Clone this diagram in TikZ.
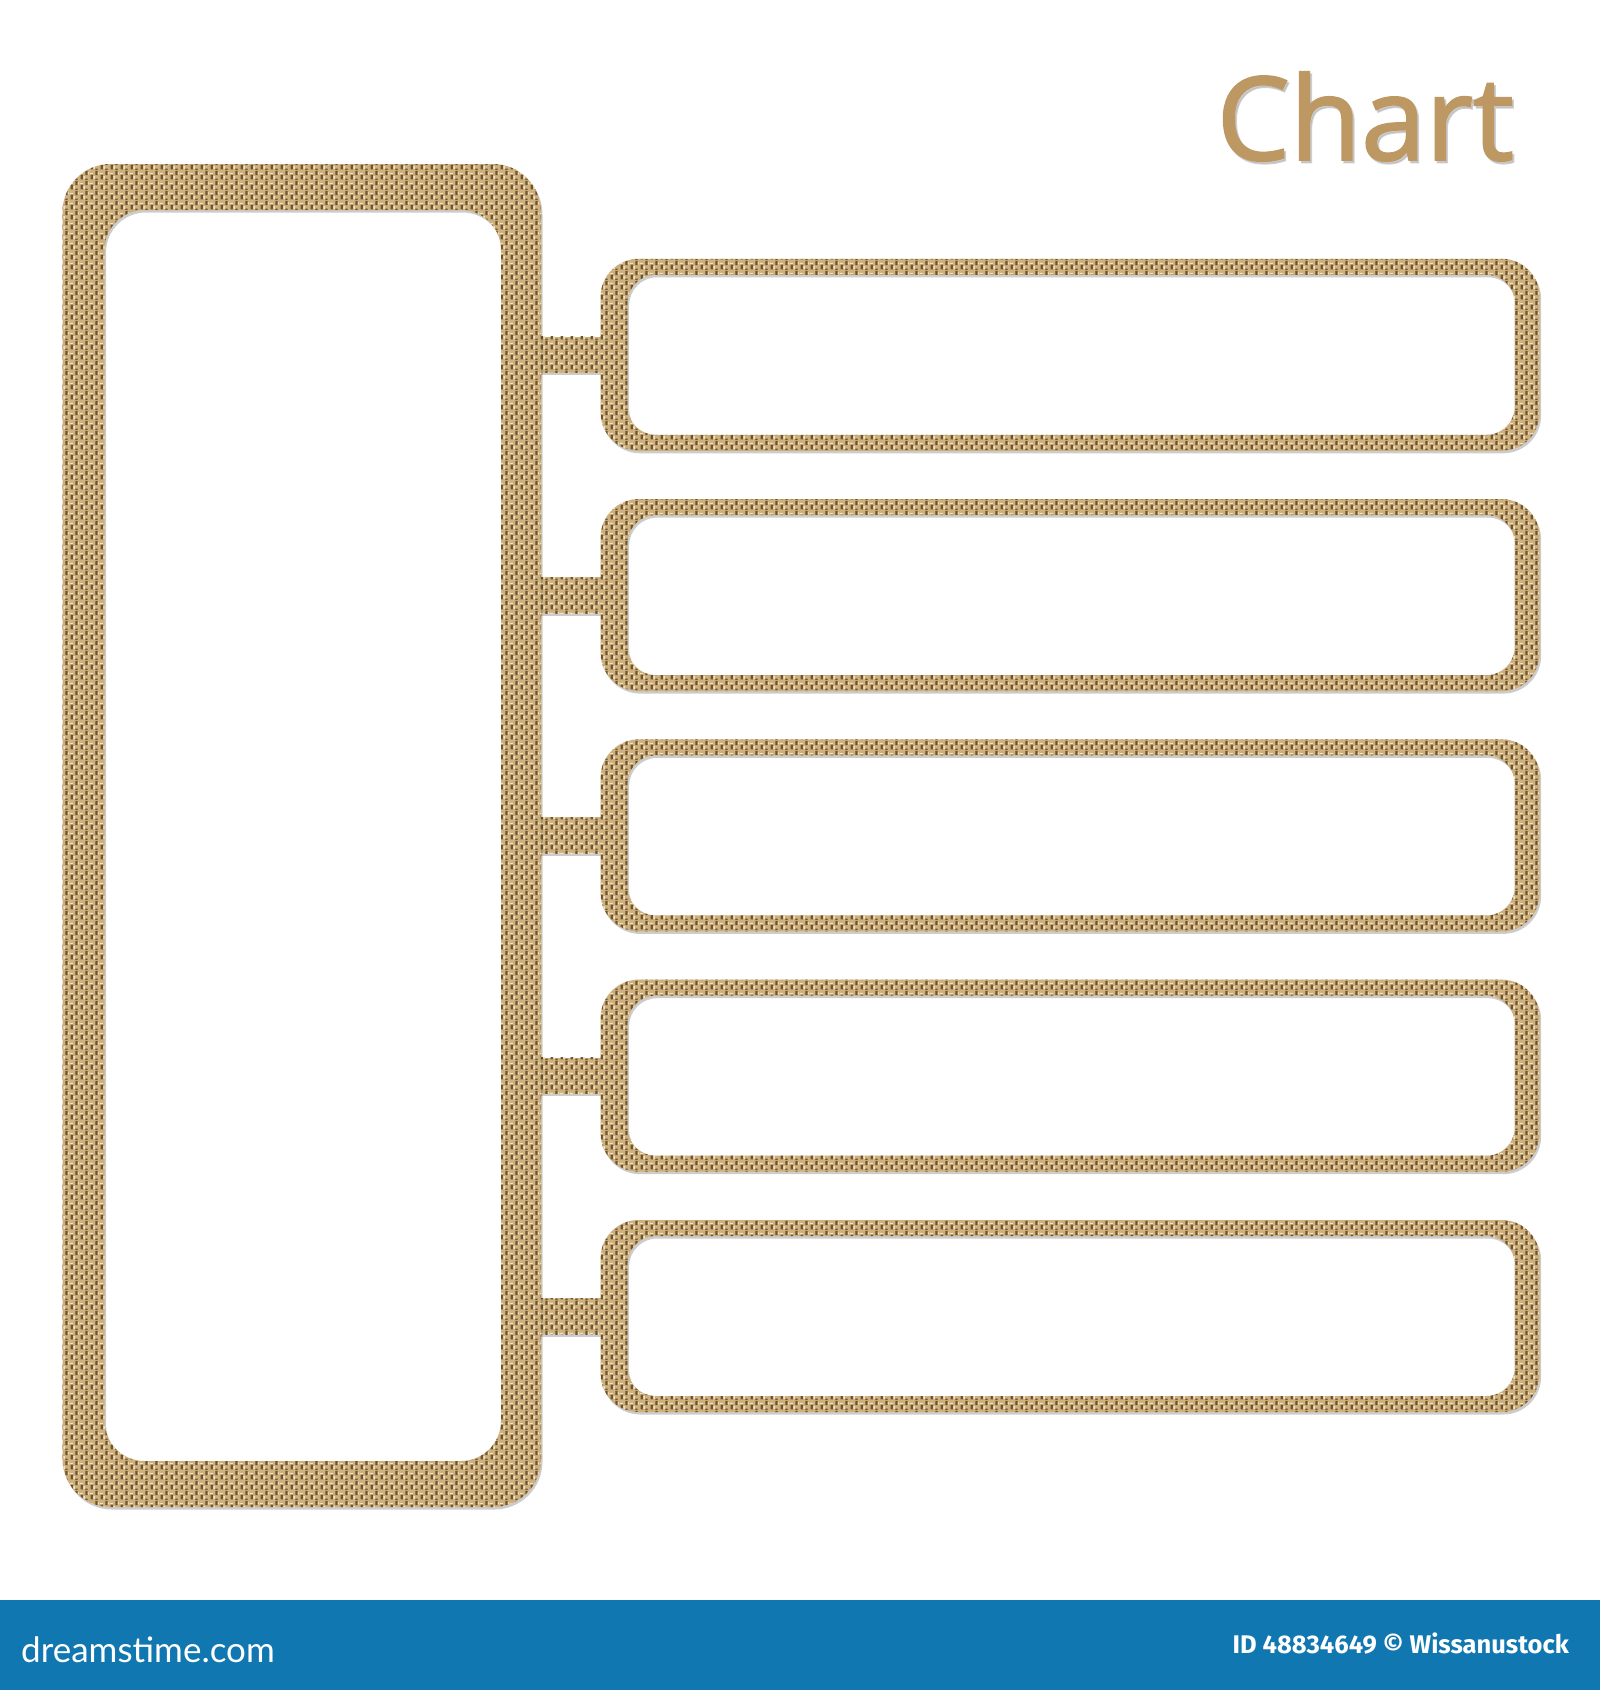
\documentclass[tikz,border=0pt]{standalone}
\usepackage{fontspec}
\usetikzlibrary{patterns.meta,calc}
\newfontfamily\titlefont{Open Sans}[FakeBold=1.6]
\newfontfamily\barfont{Lato}
\newfontfamily\idfont{Fira Sans}
\definecolor{burlap}{RGB}{208,176,122}
\definecolor{burlapdark}{RGB}{105,84,56}
\definecolor{burlaplight}{RGB}{242,226,192}
\definecolor{titlecol}{RGB}{190,152,98}
\definecolor{barblue}{RGB}{17,119,176}
\tikzdeclarepattern{
  name=weave, type=uncolored,
  bounding box={(0pt,0pt) and (10pt,10pt)},
  tile size={(10pt,10pt)},
  code={
    \fill (0.8pt,0.6pt) rectangle (3.4pt,5.8pt);
    \fill (5.8pt,5.4pt) rectangle (8.4pt,10pt);
    \fill (5.8pt,0pt) rectangle (8.4pt,1.4pt);
  }
}
\tikzdeclarepattern{
  name=weavehi, type=uncolored,
  bounding box={(0pt,0pt) and (10pt,10pt)},
  tile size={(10pt,10pt)},
  code={
    \fill (3.6pt,1.2pt) rectangle (5.4pt,4.2pt);
    \fill (8.6pt,6.2pt) rectangle (10pt,8.4pt);
    \fill (0pt,6.4pt) rectangle (3.2pt,7.6pt);
  }
}
\tikzset{
  frame/.style={fill=burlap, even odd rule,
    preaction={fill=black, even odd rule, opacity=0.2, transform canvas={shift={(1.5pt,-2.5pt)}}},
    postaction={pattern=weave, pattern color=burlapdark, even odd rule},
    postaction={pattern=weavehi, pattern color=burlaplight, even odd rule}},
  slot/.style={inner sep=0pt, outer sep=0pt, draw=none,
    minimum width=939, minimum height=192},
}
\begin{document}
\begin{tikzpicture}[x=1pt,y=-1pt]
\useasboundingbox (0,0) rectangle (1600,1690);
\fill[white] (0,0) rectangle (1600,1690);
% layout nodes
\node[slot, minimum width=478.5, minimum height=1343] (main) at (301.75,835.5) {};
\node[slot] (b1) at (1070.15,354.8) {};
\node[slot] (b2) at (1070.15,595.1) {};
\node[slot] (b3) at (1070.15,835.4) {};
\node[slot] (b4) at (1070.15,1075.7) {};
\node[slot] (b5) at (1070.15,1316) {};
% connectors
\foreach \i in {1,...,5}{
  \path[frame] ($(main.east |- b\i.west)+(-4,-18)$) rectangle ($(b\i.west)+(4,18)$);
}
% main frame
\path[frame, rounded corners=48] (main.north west) rectangle (main.south east)
  [rounded corners=40] ($(main.north west)+(42,46)$) rectangle ($(main.south east)+(-40,-46)$);
% right frames
\foreach \i in {1,...,5}{
  \path[frame, rounded corners=38] (b\i.north west) rectangle (b\i.south east)
    [rounded corners=28] ($(b\i.north west)+(27,16)$) rectangle ($(b\i.south east)+(-25,-16)$);
}
% title
\node[anchor=base east, inner sep=0pt, text=black!30, opacity=0.6] at (1516,162.5)
  {\titlefont\fontsize{116}{120}\selectfont Chart};
\node[anchor=base east, inner sep=0pt, text=titlecol] (title) at (1514,160)
  {\titlefont\fontsize{116}{120}\selectfont Chart};
% bottom bar
\fill[barblue] (0,1600) rectangle (1600,1690);
\node[anchor=base west, inner sep=0pt, text=white] (site) at (21,1662)
  {\barfont\fontsize{35}{36}\selectfont dreamstime.com};
\node[anchor=base east, inner sep=0pt, text=white] (credit) at (1569,1653)
  {\idfont\bfseries\fontsize{25.5}{27}\selectfont ID 48834649 © Wissanustock};
\end{tikzpicture}
\end{document}
